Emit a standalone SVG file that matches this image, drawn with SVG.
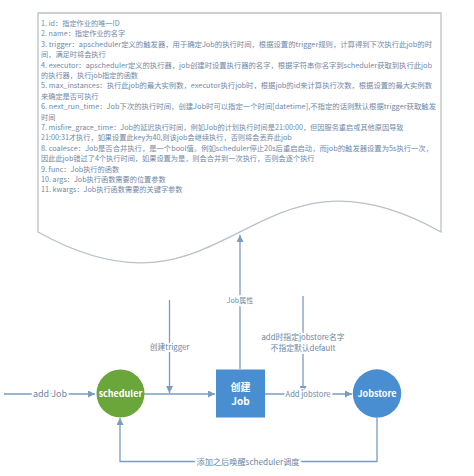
<svg xmlns="http://www.w3.org/2000/svg" width="474" height="476" viewBox="0 0 474 476">
<defs>
<marker id="arr" markerUnits="userSpaceOnUse" markerWidth="8" markerHeight="7" refX="7" refY="3.5" orient="auto">
<path d="M0,0 L7,3.5 L0,7 z" fill="#7a9cc0"/>
</marker>
<style>
.t{font-family:"Noto Sans CJK SC","Noto Sans",sans-serif;font-size:7.2px;fill:#7089a6}
.ln{fill:none;stroke:#7a9cc0;stroke-width:1.3}
.lab{font-family:"Noto Sans CJK SC","Noto Sans",sans-serif;fill:#6d87a4;text-anchor:middle;paint-order:stroke;stroke:#ffffff;stroke-width:4px;stroke-linejoin:round}
.nt{font-family:"Noto Sans CJK SC","Noto Sans",sans-serif;font-weight:bold;fill:#ffffff;text-anchor:middle}
</style>
</defs>
<rect width="474" height="476" fill="#ffffff"/>
<g id="note">
<path d="M38,13 H441 V232 C250,125 230,339 38,232 Z" fill="#ffffff" stroke="#b9c0c7" stroke-width="1.3"/>
<text class="t" x="41" y="26">1. id：指定作业的唯一ID</text>
<text class="t" x="41" y="36.4">2. name：指定作业的名字</text>
<text class="t" x="41" y="46.8" textLength="391" lengthAdjust="spacingAndGlyphs">3. trigger：apscheduler定义的触发器，用于确定Job的执行时间，根据设置的trigger规则，计算得到下次执行此job的时</text>
<text class="t" x="41" y="57.2">间，满足时将会执行</text>
<text class="t" x="41" y="67.6" textLength="391" lengthAdjust="spacingAndGlyphs">4. executor：apscheduler定义的执行器，job创建时设置执行器的名字，根据字符串你名字到scheduler获取到执行此job</text>
<text class="t" x="41" y="78">的执行器，执行job指定的函数</text>
<text class="t" x="41" y="88.4" textLength="391" lengthAdjust="spacingAndGlyphs">5. max_instances：执行此job的最大实例数，executor执行job时，根据job的id来计算执行次数，根据设置的最大实例数</text>
<text class="t" x="41" y="98.8">来确定是否可执行</text>
<text class="t" x="41" y="109.2" textLength="395" lengthAdjust="spacingAndGlyphs">6. next_run_time：Job下次的执行时间，创建Job时可以指定一个时间[datetime],不指定的话则默认根据trigger获取触发</text>
<text class="t" x="41" y="119.6">时间</text>
<text class="t" x="41" y="130">7. misfire_grace_time：Job的延迟执行时间，例如Job的计划执行时间是21:00:00，但因服务重启或其他原因导致</text>
<text class="t" x="41" y="140.4">21:00:31才执行，如果设置此key为40,则该job会继续执行，否则将会丢弃此job</text>
<text class="t" x="41" y="150.8" textLength="392" lengthAdjust="spacingAndGlyphs">8. coalesce：Job是否合并执行，是一个bool值。例如scheduler停止20s后重启启动，而job的触发器设置为5s执行一次，</text>
<text class="t" x="41" y="161.2">因此此job错过了4个执行时间，如果设置为是，则会合并到一次执行，否则会逐个执行</text>
<text class="t" x="41" y="171.6">9. func：Job执行的函数</text>
<text class="t" x="41" y="182">10. args：Job执行函数需要的位置参数</text>
<text class="t" x="41" y="192.4">11. kwargs：Job执行函数需要的关键字参数</text>
</g>
<g id="connectors">
<path class="ln" d="M4,394 H95" marker-end="url(#arr)"/>
<path class="ln" d="M144,394 H215" marker-end="url(#arr)"/>
<path class="ln" d="M169.5,300 V393" marker-end="url(#arr)"/>
<path class="ln" d="M240,369 V235" marker-end="url(#arr)"/>
<path class="ln" d="M265,394 H352" marker-end="url(#arr)"/>
<path class="ln" d="M303,296 V393" marker-end="url(#arr)"/>
<path class="ln" d="M377,418 V461.5 H120 V418" marker-end="url(#arr)"/>
<text class="lab" x="50" y="397" font-size="9">add Job</text>
<text class="lab" x="169.5" y="350" font-size="7.8">创建trigger</text>
<text class="lab" x="240" y="303" font-size="7">Job属性</text>
<text class="lab" x="308" y="397" font-size="7.6">Add jobstore</text>
<text class="lab" x="303" y="339.5" font-size="7.8">add时指定jobstore名字</text>
<text class="lab" x="303" y="350.5" font-size="7.8">不指定默认default</text>
<text class="lab" x="248" y="464.5" font-size="8.2">添加之后唤醒scheduler调度</text>
</g>
<g id="scheduler">
<circle cx="120.5" cy="393.5" r="24" fill="#6aa63a"/>
<text class="nt" x="120.5" y="396.8" font-size="9">scheduler</text>
</g>
<g id="createJob">
<rect x="216" y="369.5" width="49" height="48" fill="#4a8ed2"/>
<text class="nt" x="240.5" y="390.5" font-size="10">创建</text>
<text class="nt" x="240.5" y="404.5" font-size="10">Job</text>
</g>
<g id="jobstore">
<circle cx="377" cy="393.5" r="24.2" fill="#4a8ed2"/>
<text class="nt" x="377" y="396.8" font-size="9">Jobstore</text>
</g>
</svg>
